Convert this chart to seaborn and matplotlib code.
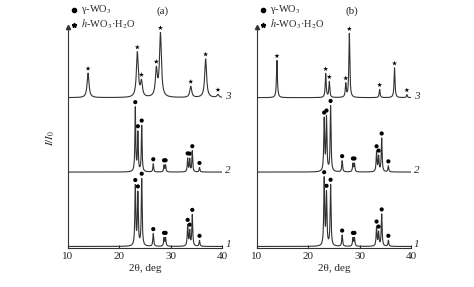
import numpy as np
import pandas as pd
import matplotlib
matplotlib.use('Agg')
import matplotlib.pyplot as plt
import seaborn as sns

# peak lists: 2theta positions and relative heights
# panel (a)
a1_pos = [23.1, 23.6, 24.35, 26.6, 28.7, 29.0, 33.3, 33.7, 34.2, 35.6]
a1_hgt = [0.80, 0.70, 0.90, 0.17, 0.11, 0.11, 0.28, 0.20, 0.42, 0.08]
a2_pos = [23.1, 23.6, 24.35, 26.6, 28.7, 29.0, 33.3, 33.7, 34.2, 35.6]
a2_hgt = [0.86, 0.52, 0.62, 0.11, 0.09, 0.09, 0.18, 0.17, 0.28, 0.06]
a3_pos = [13.9, 23.5, 24.3, 27.2, 28.0, 33.9, 36.8, 39.2]
a3_hgt = [0.33, 0.60, 0.20, 0.36, 0.85, 0.15, 0.52, 0.04]
# panel (b)
b1_pos = [23.1, 23.55, 24.35, 26.6, 28.7, 29.0, 33.3, 33.7, 34.3, 35.6]
b1_hgt = [0.90, 0.70, 0.82, 0.15, 0.11, 0.11, 0.26, 0.18, 0.43, 0.08]
b2_pos = [23.1, 23.55, 24.35, 26.6, 28.7, 29.0, 33.3, 33.7, 34.3, 35.6]
b2_hgt = [0.70, 0.72, 0.88, 0.15, 0.11, 0.11, 0.27, 0.20, 0.45, 0.08]
b3_pos = [13.9, 23.4, 24.1, 27.3, 28.0, 33.9, 36.8, 39.2]
b3_hgt = [0.50, 0.32, 0.21, 0.18, 0.86, 0.11, 0.40, 0.04]

curve_labels = ['1', '2', '3']
x_ticks = [10, 20, 30, 40]


def profile(x, pos, hgt, w):
    y = np.zeros_like(x)
    for p, h in zip(pos, hgt):
        y += h / (1 + ((x - p) / w) ** 2)
    return y


sns.set_style('ticks')
plt.rcParams['font.family'] = ['Liberation Serif', 'DejaVu Serif']
plt.rcParams['mathtext.fontset'] = 'stix'

fig = plt.figure(figsize=(4.74, 2.87), dpi=100)
ax_a = fig.add_axes([0.1435, 0.136, 0.325, 0.77])
ax_b = fig.add_axes([0.542, 0.136, 0.325, 0.77])

x = np.linspace(10, 40, 3000)

panels = [
    (ax_a, '(a)', [(a1_pos, a1_hgt, 0.10), (a2_pos, a2_hgt, 0.09), (a3_pos, a3_hgt, 0.22)]),
    (ax_b, '(b)', [(b1_pos, b1_hgt, 0.10), (b2_pos, b2_hgt, 0.10), (b3_pos, b3_hgt, 0.11)]),
]

for ax, tag, curves in panels:
    for i, (pos, hgt, w) in enumerate(curves):
        y = profile(x, pos, hgt, w) + i
        df = pd.DataFrame({'x': x, 'y': y})
        sns.lineplot(data=df, x='x', y='y', ax=ax, color='#333333', lw=0.8)
        peak_y = profile(np.array(pos, dtype=float), pos, hgt, w) + i + 0.06
        if i < 2:
            sns.scatterplot(x=pos, y=peak_y, ax=ax, color='black', marker='o', s=9,
                            edgecolor='none', clip_on=False)
        else:
            sns.scatterplot(x=pos, y=peak_y, ax=ax, color='black', marker='*', s=14,
                            edgecolor='none', clip_on=False)
        ax.text(40.6, i + 0.02, curve_labels[i], fontsize=8, style='italic',
                va='center', ha='left')

    ax.set_xlim(10, 40)
    ax.set_ylim(-0.02, 2.95)
    ax.set_xticks(x_ticks)
    ax.set_yticks([])
    ax.tick_params(axis='x', direction='in', length=2, labelsize=8, pad=3)
    ax.set_xlabel('2θ, deg', fontsize=8, labelpad=2)
    ax.set_ylabel('')
    sns.despine(ax=ax)
    for side in ['left', 'bottom']:
        ax.spines[side].set_linewidth(0.8)
        ax.spines[side].set_color('#333333')
    ax.plot(10, 2.95, marker='^', color='#333333', ms=3, clip_on=False)

    # key at the top of each panel
    ax.plot(11.2, 3.18, marker='o', color='black', ms=3, clip_on=False)
    ax.text(12.6, 3.18, 'γ-WO$_3$', fontsize=7.5, va='center', ha='left')
    ax.plot(11.2, 2.98, marker='*', color='black', ms=3.5, clip_on=False)
    ax.text(12.6, 2.98, '$h$-WO$_3$·H$_2$O', fontsize=7.5, va='center', ha='left')
    ax.text(28.5, 3.16, tag, fontsize=8, va='center', ha='center')

ax_a.set_ylabel('$I/I_0$', fontsize=8, labelpad=8)

fig.savefig('out.png', dpi=100)
